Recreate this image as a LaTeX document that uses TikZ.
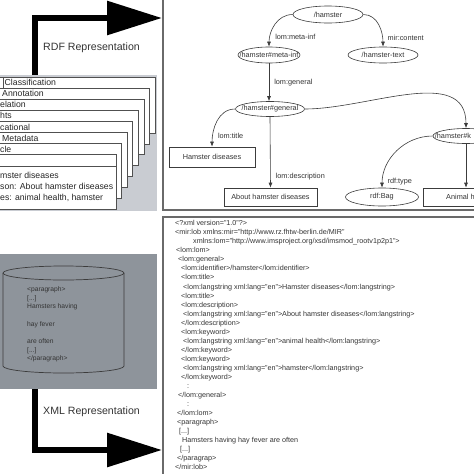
\documentclass[tikz,border=0pt]{standalone}
\usepackage{fontspec}
\setmainfont{Liberation Sans}
\usetikzlibrary{arrows.meta,shapes.geometric}

\definecolor{linegray}{HTML}{3C3C3C}
\definecolor{textgray}{HTML}{333333}
\definecolor{cardgray}{HTML}{505050}
\definecolor{framegray}{HTML}{6A6A6A}
\definecolor{lightpanel}{HTML}{C9CCD2}
\definecolor{darkpanel}{HTML}{8E949B}

\newcommand{\graphfont}{\fontsize{7.3}{8.5}\selectfont}
\newcommand{\cardfont}{\fontsize{8.7}{10}\selectfont}
\newcommand{\codefont}{\fontsize{7.2}{9.04}\selectfont}
\newcommand{\cylfont}{\fontsize{6.7}{8.7}\selectfont}
\newcommand{\titlefont}{\fontsize{10.6}{12}\selectfont}
\newcommand{\tight}[1]{\makebox[0pt]{#1}}
\newcommand{\ind}[1]{\hspace*{#1pt}}

\tikzset{
    rdfnode/.style={ellipse, draw=linegray, line width=.6pt, inner sep=0pt,
    	font=\graphfont, text=textgray},
    rdfbox/.style={rectangle, draw=linegray, line width=.6pt, inner sep=0pt,
    	font=\graphfont, text=textgray},
    rdflabel/.style={anchor=west, inner xsep=5pt, inner ysep=1pt,
    	font=\graphfont, text=textgray},
    rdfedge/.style={draw=linegray, line width=.6pt, -{Latex[length=5pt,width=4pt]}}
}
\tikzset{
    card/.style={fill=white, draw=cardgray, line width=.7pt},
    cardtext/.style={anchor=west, inner sep=0pt, font=\cardfont, text=black!85},
    bigarrow/.style={line width=6pt, -{Triangle[length=55pt,width=33pt]}},
    bigtext/.style={anchor=west, inner sep=0pt, font=\titlefont, text=textgray},
    panelframe/.style={draw=framegray, line width=1.2pt}
}

\begin{document}
\begin{tikzpicture}[x=1pt,y=1pt]
	\useasboundingbox (0,0) rectangle (474,-474);
	\clip (0,0) rectangle (474,-474);

	% left panels
	\fill[lightpanel] (0,-75) rectangle (157,-211);
	\fill[darkpanel] (0,-254) rectangle (157,-389);

	% right frames
	\draw[panelframe] (163,5) rectangle (485,-210);
	\draw[panelframe] (163,-217) rectangle (485,-485);

	% stack of metadata cards
	\foreach \i/\txt/\lx in {0/Classification/4.5,1/Annotation/2,2/elation/0,
		3/hts/0,4/cational/0,5/Metadata/2,6/cle/0}{
		\filldraw[card] (-10,-77-11.1*\i) rectangle (155-5.55*\i,-133-10.9*\i);
		\node[cardtext] (card\i) at (\lx pt,-82.5-11.1*\i) {\txt};
	}
	\draw[cardgray, line width=.7pt] (3,-77) -- (3,-88.1);
	\filldraw[card] (-10,-154.7) rectangle (116.2,-209.3);
	\draw[cardgray, line width=.7pt] (-10,-166.5) -- (116.2,-166.5);
	\node[cardtext] (front1) at (0,-175.5) {mster diseases};
	\node[cardtext] (front2) at (0,-186.5) {son: About hamster diseases};
	\node[cardtext] (front3) at (0,-197.5) {es: animal health, hamster};

	% arrows between the views
	\coordinate (rdfstart) at (35,-75);
	\coordinate (rdfend) at (162,-18);
	\draw[bigarrow] (rdfstart) |- (rdfend);
	\node[bigtext] (rdftitle) at (43,-48) {RDF Representation};
	\coordinate (xmlstart) at (35,-389);
	\coordinate (xmlend) at (162,-450);
	\draw[bigarrow] (xmlstart) |- (xmlend);
	\node[bigtext] (xmltitle) at (43,-412) {XML Representation};

	% text store
	\draw[linegray, line width=.7pt] (3,-273) -- (3,-366)
		arc[start angle=180, end angle=360, x radius=60.5, y radius=7] -- (124,-273);
	\draw[linegray, line width=.7pt] (63.5,-273) ellipse[x radius=60.5, y radius=7];
	\node[anchor=north west, align=left, inner sep=0pt, font=\cylfont, text=textgray]
		(storetext) at (27,-286.3) {<paragraph>\\ {[...]}\\ Hamsters having\\[8.7pt]
		hay fever\\[8.7pt] are often\\ {[...]}\\ </paragraph>};

	% RDF graph
	\node[rdfnode, minimum width=70pt, minimum height=17pt] (hamster) at (328,-14.5)
		{\tight{/hamster}};
	\node[rdfnode, minimum width=62pt, minimum height=16pt] (metainf) at (269,-55)
		{\tight{/hamster\#meta-inf}};
	\node[rdfnode, minimum width=70pt, minimum height=16pt] (hamstertext) at (383,-55)
		{\tight{/hamster-text}};
	\node[rdfnode, minimum width=69pt, minimum height=15pt] (general) at (270,-109)
		{\tight{/hamster\#general}};
	\node[rdfnode, minimum width=66pt, minimum height=15pt] (kw) at (466,-136) {};
	\node[anchor=west, inner sep=0pt, font=\graphfont, text=textgray] (kwtext)
		at ([xshift=2pt]kw.west) {/hamster\#k};
	\node[rdfbox, minimum width=86pt, minimum height=20pt] (title) at (212,-157)
		{Hamster diseases};
	\node[rdfbox, minimum width=93pt, minimum height=18pt] (desc) at (270.5,-197)
		{About hamster diseases};
	\node[rdfnode, minimum width=73pt, minimum height=18pt] (bag) at (382,-197)
		{\tight{rdf:Bag}};
	\node[rdfbox, minimum width=90pt, minimum height=18pt] (animal) at (468,-197) {};
	\node[anchor=west, inner sep=0pt, font=\graphfont, text=textgray] (animaltext)
		at (446,-197) {Animal h};

	\draw[rdfedge] (hamster.west) to[out=180,in=90]
		node[rdflabel, pos=.8] (lmeta) {lom:meta-inf} (metainf.north);
	\draw[rdfedge] (hamster.east) to[out=0,in=90]
		node[rdflabel, pos=.8] (lcontent) {mir:content} (hamstertext.north);
	\draw[rdfedge] (metainf.south) --
		node[rdflabel, midway] (lgeneral) {lom:general} (metainf.south |- general.north);
	\draw[rdfedge] (general.west) to[out=180,in=90]
		node[rdflabel, pos=.8] (ltitle) {lom:title} (title.north);
	\draw[rdfedge] (general.south) --
		node[rdflabel, pos=.85] (ldesc) {lom:description} (desc.north);
	\draw[rdfedge] (general.east) to[out=0,in=90] (kw.north);
	\draw[rdfedge] (kw.west) to[out=180,in=90]
		node[rdflabel, pos=.93] (ltype) {rdf:type} (bag.north);
	\draw[rdfedge] (kw.south) -- (kw.south |- animal.north);

	% XML serialisation
	\node[anchor=north west, align=left, inner sep=0pt, font=\codefont, text=textgray]
		(xmlcode) at (175,-220.3) {%
<?xml version="1.0"?>\\
<mir:lob xmlns:mir="http://www.rz.fhtw-berlin.de/MIR"\\
\ind{18}xmlns:lom="http://www.imsproject.org/xsd/imsmod\_rootv1p2p1">\\
\ind{1}<lom:lom>\\
\ind{3}<lom:general>\\
\ind{6}<lom:identifier>/hamster</lom:identifier>\\
\ind{6}<lom:title>\\
\ind{8}<lom:langstring xml:lang="en">Hamster diseases</lom:langstring>\\
\ind{6}<lom:title>\\
\ind{6}<lom:description>\\
\ind{8}<lom:langstring xml:lang="en">About hamster diseases</lom:langstring>\\
\ind{6}</lom:description>\\
\ind{6}<lom:keyword>\\
\ind{8}<lom:langstring xml:lang="en">animal health</lom:langstring>\\
\ind{6}</lom:keyword>\\
\ind{6}<lom:keyword>\\
\ind{8}<lom:langstring xml:lang="en">hamster</lom:langstring>\\
\ind{6}</lom:keyword>\\
\ind{12}:\\
\ind{3}</lom:general>\\
\ind{12}:\\
\ind{2}</lom:lom>\\
\ind{2}<paragraph>\\
\ind{4}{[...]}\\
\ind{7}Hamsters having hay fever are often\\
\ind{5}{[...]}\\
\ind{2}</paragrap>\\
</mir:lob>};
\end{tikzpicture}
\end{document}
